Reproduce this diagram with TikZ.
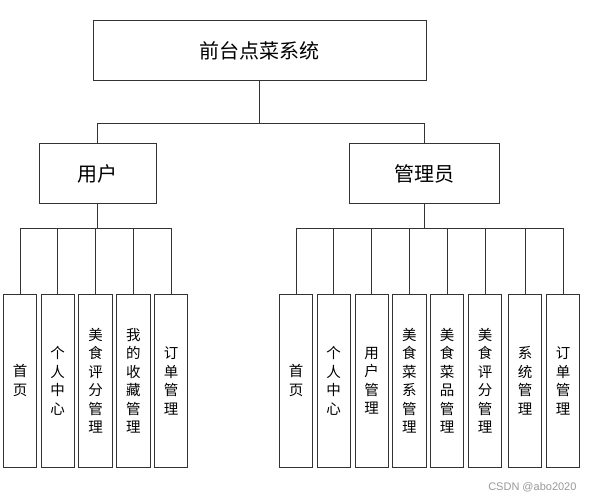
\documentclass[tikz,border=0pt]{standalone}
\usepackage{fontspec}
\setmainfont{Noto Sans CJK SC}
\newfontfamily\wmfont{Liberation Sans}
\begin{document}
\begin{tikzpicture}[x=1pt,y=-1pt,
  line width=1pt,
  box/.style={draw=black!80,line width=1pt,inner sep=0pt,fill=white},
  bigbox/.style={box,font=\fontsize{20}{22}\selectfont},
  leaf/.style={box,minimum width=33.4pt,minimum height=173pt,align=center,font=\fontsize{14.5}{18.5}\selectfont},
  conn/.style={draw=black!80,line width=1pt}]
\useasboundingbox (0,0) rectangle (590,500);
\fill[white] (0,0) rectangle (590,500);
% top
\node[bigbox,minimum width=333pt,minimum height=60pt] (top) at (259.5,51) {前台点菜系统};
\node[bigbox,minimum width=117pt,minimum height=60pt] (user) at (97.7,174) {用户};
\node[bigbox,minimum width=150pt,minimum height=60pt] (admin) at (424,174) {管理员};
\coordinate (b0) at (259.5,124);
\coordinate (bu) at (97.7,228.7);
\coordinate (ba) at (424,228.7);
\draw[conn] (top.south) -- (b0);
\draw[conn] (user.north) |- (b0);
\draw[conn] (admin.north) |- (b0);
\draw[conn] (user.south) -- (bu);
\draw[conn] (admin.south) -- (ba);
% user leaves
\node[leaf] (u1) at (20,380.7) {首\\页};
\node[leaf] (u2) at (57.7,380.7) {个\\人\\中\\心};
\node[leaf] (u3) at (95.5,380.7) {美\\食\\评\\分\\管\\理};
\node[leaf] (u4) at (133.3,380.7) {我\\的\\收\\藏\\管\\理};
\node[leaf] (u5) at (171,380.7) {订\\单\\管\\理};
\foreach \n in {u1,u2,u3,u4,u5} {\draw[conn] (\n.north) |- (bu);}
% admin leaves
\node[leaf] (a1) at (296,380.7) {首\\页};
\node[leaf] (a2) at (333.7,380.7) {个\\人\\中\\心};
\node[leaf] (a3) at (371.7,380.7) {用\\户\\管\\理};
\node[leaf] (a4) at (409.4,380.7) {美\\食\\菜\\系\\管\\理};
\node[leaf] (a5) at (447,380.7) {美\\食\\菜\\品\\管\\理};
\node[leaf] (a6) at (485,380.7) {美\\食\\评\\分\\管\\理};
\node[leaf] (a7) at (525,380.7) {系\\统\\管\\理};
\node[leaf] (a8) at (563,380.7) {订\\单\\管\\理};
\foreach \n in {a1,a2,a3,a4,a5,a6,a7,a8} {\draw[conn] (\n.north) |- (ba);}
% watermark
\node[anchor=east,inner sep=0pt,text=black!40,font=\wmfont\fontsize{11}{13}\selectfont] (wm) at (577,487) {CSDN @abo2020};
\end{tikzpicture}
\end{document}
